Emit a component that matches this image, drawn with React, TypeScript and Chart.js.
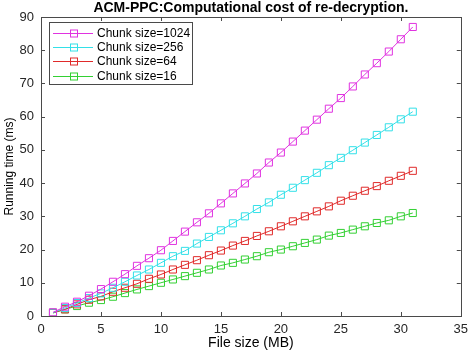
import React, { useEffect, useRef } from "react";
import { Chart, registerables } from "chart.js";

Chart.register(...registerables);

const fileSizes = [1, 2, 3, 4, 5, 6, 7, 8, 9, 10, 11, 12, 13, 14, 15, 16, 17, 18, 19, 20, 21, 22, 23, 24, 25, 26, 27, 28, 29, 30, 31];
const chunk1024 = [1.1, 2.8, 4.3, 6.1, 8.1, 10.3, 12.6, 15.1, 17.4, 19.8, 22.6, 25.4, 28.2, 30.9, 33.9, 36.9, 39.9, 42.9, 46.2, 49.2, 52.5, 55.8, 59.1, 62.4, 65.6, 69.1, 72.7, 76.1, 79.6, 83.3, 87.0];
const chunk256 = [1.0, 2.4, 3.9, 5.4, 6.8, 8.5, 10.3, 12.2, 14.0, 16.0, 18.0, 19.6, 21.8, 23.8, 25.8, 27.9, 30.0, 32.2, 34.2, 36.5, 38.6, 40.9, 43.1, 45.4, 47.6, 49.9, 52.2, 54.5, 56.8, 59.2, 61.5];
const chunk64 = [1.0, 2.0, 3.5, 4.9, 5.9, 7.3, 8.5, 9.7, 11.2, 12.5, 14.0, 15.4, 16.8, 18.3, 19.7, 21.2, 22.6, 24.1, 25.5, 27.0, 28.5, 30.0, 31.5, 33.0, 34.7, 36.2, 37.7, 39.1, 40.7, 42.2, 43.7];
const chunk16 = [0.9, 2.0, 3.0, 4.0, 4.8, 5.8, 6.9, 8.0, 9.0, 10.0, 11.0, 12.0, 13.0, 14.0, 15.2, 16.0, 17.0, 18.0, 19.2, 20.0, 21.0, 22.0, 23.0, 24.2, 25.0, 26.0, 27.0, 28.0, 28.8, 30.0, 31.0];
const seriesLabels = ["Chunk size=1024", "Chunk size=256", "Chunk size=64", "Chunk size=16"];
const seriesColors = ["#e033e0", "#33e0e8", "#e02a2a", "#33d033"];
const titleText = "ACM-PPC:Computational cost of re-decryption.";
const xTitle = "File size (MB)";
const yTitle = "Running time (ms)";

const FONT = "'Liberation Sans', Arial, Helvetica, sans-serif";

const boxPlugin = {
  id: "matlabBox",
  afterDraw(chart: any) {
    const { ctx, chartArea } = chart;
    const { left, right, top, bottom } = chartArea;
    ctx.save();
    ctx.strokeStyle = "#4a4a4a";
    ctx.lineWidth = 1;
    ctx.strokeRect(Math.round(left) + 0.5, Math.round(top) + 0.5, Math.round(right - left), Math.round(bottom - top));
    const tl = 4;
    const xs = chart.scales.x;
    const ys = chart.scales.y;
    ctx.beginPath();
    xs.ticks.forEach((t: any) => {
      const px = Math.round(xs.getPixelForValue(t.value)) + 0.5;
      ctx.moveTo(px, bottom);
      ctx.lineTo(px, bottom - tl);
      ctx.moveTo(px, top);
      ctx.lineTo(px, top + tl);
    });
    ys.ticks.forEach((t: any) => {
      const py = Math.round(ys.getPixelForValue(t.value)) + 0.5;
      ctx.moveTo(left, py);
      ctx.lineTo(left + tl, py);
      ctx.moveTo(right, py);
      ctx.lineTo(right - tl, py);
    });
    ctx.stroke();

    // title centered over the axes
    ctx.fillStyle = "#000";
    ctx.font = `bold 14px ${FONT}`;
    ctx.textAlign = "center";
    ctx.textBaseline = "middle";
    ctx.fillText(titleText, (left + right) / 2, 8);

    // legend box
    const bx = 49.5, by = 22.5, bw = 143, bh = 62;
    ctx.fillStyle = "#fff";
    ctx.fillRect(bx, by, bw, bh);
    ctx.strokeStyle = "#4a4a4a";
    ctx.strokeRect(bx, by, bw, bh);
    chart.data.datasets.forEach((ds: any, i: number) => {
      const y = Math.round(33 + i * 14.2) + 0.5;
      ctx.strokeStyle = ds.borderColor;
      ctx.lineWidth = 1;
      ctx.beginPath();
      ctx.moveTo(53, y);
      ctx.lineTo(93, y);
      ctx.stroke();
      ctx.strokeRect(70.5, y - 3.5, 7, 7);
      ctx.fillStyle = "#000";
      ctx.font = `12px ${FONT}`;
      ctx.textAlign = "left";
      ctx.textBaseline = "middle";
      ctx.fillText(ds.label, 97, y + 0.5);
    });
    ctx.restore();
  },
};

export default function App() {
  const ref = useRef<HTMLCanvasElement | null>(null);
  useEffect(() => {
    if (!ref.current) return;
    const allSeries = [chunk1024, chunk256, chunk64, chunk16];
    const chart = new Chart(ref.current, {
      type: "line",
      data: {
        datasets: allSeries.map((vals, i) => ({
          label: seriesLabels[i],
          data: fileSizes.map((x, j) => ({ x, y: vals[j] })),
          borderColor: seriesColors[i],
          backgroundColor: "rgba(0,0,0,0)",
          borderWidth: 1,
          pointStyle: "rect",
          pointRadius: 5,
          pointBorderWidth: 1,
          pointBorderColor: seriesColors[i],
          pointBackgroundColor: "rgba(0,0,0,0)",
          tension: 0,
        })),
      },
      options: {
        animation: false,
        responsive: false,
        layout: { padding: { top: 17, right: 8, left: 0, bottom: 0 } },
        plugins: {
          legend: { display: false },
          title: { display: false },
          tooltip: { enabled: false },
        },
        scales: {
          x: {
            type: "linear",
            min: 0,
            max: 35,
            ticks: { stepSize: 5, color: "#262626", font: { family: FONT, size: 13 }, padding: 6, maxRotation: 0 },
            grid: { display: false, drawTicks: false },
            border: { display: false },
            title: { display: true, text: xTitle, color: "#000", font: { family: FONT, size: 14 }, padding: { top: 0, bottom: 3 } },
            afterFit: (s: any) => { s.height = 39; },
          },
          y: {
            type: "linear",
            min: 0,
            max: 90,
            ticks: { stepSize: 10, color: "#262626", font: { family: FONT, size: 13 }, padding: 7 },
            grid: { display: false, drawTicks: false },
            border: { display: false },
            title: { display: true, text: yTitle, color: "#000", font: { family: FONT, size: 12 }, padding: { top: 2, bottom: 0 } },
            afterFit: (s: any) => { s.width = 41; },
          },
        },
      },
      plugins: [boxPlugin],
    });
    return () => chart.destroy();
  }, []);
  return (
    <div style={{ position: "absolute", left: 0, top: 0, width: 474, height: 355, background: "#fff" }}>
      <canvas ref={ref} width={474} height={355} style={{ width: 474, height: 355, display: "block" }} />
    </div>
  );
}
